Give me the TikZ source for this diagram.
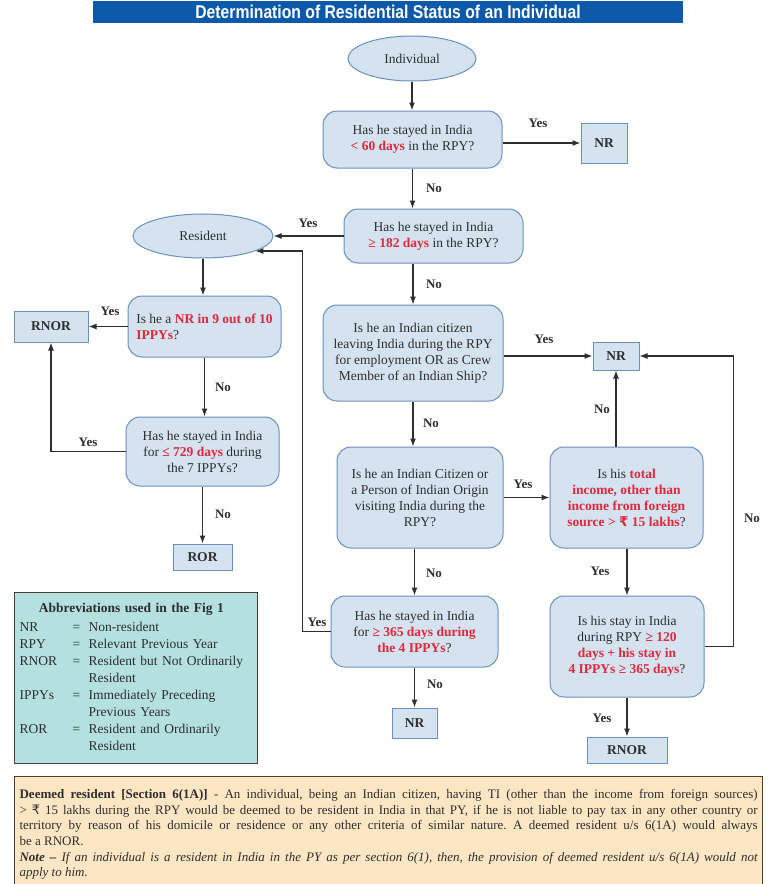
\documentclass[tikz,border=0pt]{standalone}
\usepackage{fontspec}
\setmainfont{Liberation Serif}
\newfontfamily\titlefont[FakeStretch = 0.85]{Liberation Sans}
\newfontfamily\rupeefont{DejaVu Sans}
\usepackage{xcolor}
\usetikzlibrary{calc}
\usetikzlibrary{arrows.meta}
\usetikzlibrary{shapes.geometric}
\definecolor{boxfill}{HTML}{D5E3F1}
\definecolor{boxline}{HTML}{6B8FBE}
\definecolor{hlred}{HTML}{E0293B}
\definecolor{txt}{HTML}{2E2E2E}
\definecolor{titleblue}{HTML}{0B59A8}
\definecolor{abbrfill}{HTML}{B4E0E0}
\definecolor{notefill}{HTML}{FDE6C3}
\definecolor{notebrd}{HTML}{4A3C30}
\tikzset{>=latex}
\tikzstyle{qbox} = [draw = boxline, fill = boxfill, line width = 1, rounded corners = 14pt, align = center, text = txt, font = \fontsize{13.5}{16}\selectfont, inner sep = 1]
\tikzstyle{endbox} = [draw = boxline, fill = boxfill, line width = 1, text = txt, font = \fontsize{13.5}{16}\selectfont\bfseries, inner sep = 1]
\tikzstyle{oval} = [ellipse, draw = boxline, fill = boxfill, line width = 1, text = txt, font = \fontsize{13.5}{16}\selectfont, inner sep = 1]
\tikzstyle{lbl} = [draw = none, inner sep = 1, text = txt, font = \fontsize{13}{15}\selectfont\bfseries]
\tikzstyle{arr} = [-{Latex[length = 8pt, width = 6pt]}, draw = txt, line width = 1.2]
\newcommand{\hl}[1]{\textcolor{hlred}{\bfseries #1}}
\newcommand{\rs}{{\rupeefont ₹}}

\begin{document}
\begin{tikzpicture}[x = 1pt, y = -1pt]
\useasboundingbox (0, 0) rectangle (768, 884);
\node [fill = titleblue, minimum width = 590, minimum height = 22, inner sep = 0, text = white, font = \titlefont\fontsize{18.5}{20}\selectfont\bfseries] (title) at (388, 12) {Determination of Residential Status of an Individual};

% main column
\node [oval, minimum width = 128, minimum height = 45] (ind) at (412, 58.5) {Individual};
\node [qbox, minimum width = 179, minimum height = 57] (q1) at (412.5, 139.5) {Has he stayed in India\\\hl{< 60 days} in the RPY?};
\node [endbox, minimum width = 46, minimum height = 40] (nr1) at (604, 143) {NR};
\node [qbox, minimum width = 179, minimum height = 54] (q2) at (433.5, 236) {Has he stayed in India\\\hl{≥ 182 days} in the RPY?};
\node [qbox, minimum width = 180, minimum height = 96] (q5) at (413, 353) {Is he an Indian citizen\\leaving India during the RPY\\for employment OR as Crew\\Member of an Indian Ship?};
\node [endbox, minimum width = 46, minimum height = 28] (nr2) at (616, 356) {NR};
\node [qbox, minimum width = 166, minimum height = 101] (q6) at (420, 497.5) {Is he an Indian Citizen or\\a Person of Indian Origin\\visiting India during the\\RPY?};
\node [qbox, minimum width = 153, minimum height = 101] (q7) at (626.5, 497.5) {Is his \hl{total}\\\hl{income, other than}\\\hl{income from foreign}\\\hl{source > \rs{} 15 lakhs}?};
\node [qbox, minimum width = 167, minimum height = 71] (q8) at (414.5, 631.5) {Has he stayed in India\\for \hl{≥ 365 days during}\\\hl{the 4 IPPYs}?};
\node [endbox, minimum width = 45, minimum height = 30] (nr3) at (414.5, 723) {NR};
\node [qbox, minimum width = 154, minimum height = 101] (q9) at (627, 646.5) {Is his stay in India\\during RPY \hl{≥ 120}\\\hl{days + his stay in}\\\hl{4 IPPYs ≥ 365 days}?};
\node [endbox, minimum width = 80, minimum height = 26] (rnor2) at (627, 750) {RNOR};

% resident branch
\node [oval, minimum width = 140, minimum height = 44] (res) at (203, 236) {Resident};
\node [qbox, minimum width = 153, minimum height = 61, align = left] (q3) at (204.5, 326.5) {Is he a \hl{NR in 9 out of 10}\\\hl{IPPYs}?};
\node [endbox, minimum width = 74, minimum height = 31] (rnor1) at (51, 326.5) {RNOR};
\node [qbox, minimum width = 153, minimum height = 69] (q4) at (202.5, 451.5) {Has he stayed in India\\for \hl{≤ 729 days} during\\the 7 IPPYs?};
\node [endbox, minimum width = 59, minimum height = 26] (ror) at (202.5, 557) {ROR};

% connectors
\draw [arr] (ind.south) -- (ind.south |- q1.north);
\draw [arr] (q1.east |- nr1) -- (nr1.west);
\draw [arr] (q1.south) -- (q1.south |- q2.north);
\draw [arr] (q2.west) -- (res.east);
\draw [arr] (q5.north |- q2.south) -- (q5.north);
\draw [arr] (res.south) -- (res.south |- q3.north);
\draw [arr] (q3.west |- rnor1) -- (rnor1.east);
\draw [arr] (q3.south) -- (q3.south |- q4.north);
\draw [arr] (q4.west) -| (rnor1.south);
\draw [arr] (q4.south) -- (ror.north);
\draw [arr] (q5.east |- nr2) -- (nr2.west);
\draw [arr] (q5.south) -- (q5.south |- q6.north);
\draw [arr] (q6.east) -- (q7.west);
\draw [arr] (q7.north -| nr2) -- (nr2.south);
\draw [arr] (q7.south -| q9.north) -- (q9.north);
\draw [arr] (q8.north |- q6.south) -- (q8.north);
\draw [arr] (q8.west) -| ($(res.-16) + (47, 0)$) -- (res.-16);
\draw [arr] (q8.south) -- (nr3.north);
\draw [arr] (q9.south) -- (rnor2.north);
\draw [arr] (q9.east) -- ++(29, 0) |- (nr2.east);

% labels
\node [lbl] (y1) at (538, 123) {Yes};
\node [lbl] (n1) at (434, 188) {No};
\node [lbl] (y2) at (308, 223) {Yes};
\node [lbl] (n2) at (434, 284) {No};
\node [lbl] (y3) at (110, 311) {Yes};
\node [lbl] (n3) at (223, 387) {No};
\node [lbl] (y4) at (88, 442) {Yes};
\node [lbl] (n4) at (223, 514) {No};
\node [lbl] (y5) at (544, 339) {Yes};
\node [lbl] (n5) at (431, 423) {No};
\node [lbl] (y6) at (523, 484) {Yes};
\node [lbl] (n6) at (602, 409) {No};
\node [lbl] (y7) at (600, 571) {Yes};
\node [lbl] (n7) at (434, 573) {No};
\node [lbl] (y8) at (317, 622) {Yes};
\node [lbl] (n8) at (435, 684) {No};
\node [lbl] (y9) at (602, 718) {Yes};
\node [lbl] (n9) at (752, 518) {No};

% abbreviations
\node [draw = notebrd, fill = abbrfill, line width = 1.2, anchor = north west, minimum width = 243, minimum height = 171, text width = 233, inner xsep = 5, align = left, text = txt, font = \fontsize{13.5}{17}\selectfont] (abbr) at (14, 592) {%
\begin{tabular}{@{}p{53pt}@{}p{16pt}@{}l@{}}
\multicolumn{3}{c}{\bfseries Abbreviations used in the Fig 1}\\[2pt]
NR & = & Non-resident\\
RPY & = & Relevant Previous Year\\
RNOR & = & Resident but Not Ordinarily\\
 & & Resident\\
IPPYs & = & Immediately Preceding\\
 & & Previous Years\\
ROR & = & Resident and Ordinarily\\
 & & Resident
\end{tabular}};

% deemed resident note
\node [draw = notebrd, fill = notefill, line width = 1.2, anchor = north west, text width = 738, inner xsep = 5, inner ysep = 13, align = justify, text = txt, font = \fontsize{13}{15.6}\selectfont] (note) at (14, 776) {%
\tolerance=9999\relax\hyphenpenalty=10000\relax\frenchspacing
\textbf{Deemed resident [Section 6(1A)]} - An individual, being an Indian citizen, having TI (other than the income from foreign sources)\linebreak
> \rs{} 15 lakhs during the RPY would be deemed to be resident in India in that PY, if he is not liable to pay tax in any other country or\linebreak
territory by reason of his domicile or residence or any other criteria of similar nature. A deemed resident u/s 6(1A) would always\linebreak
be a RNOR.\par
\textbf{\textit{Note –}} \textit{If an individual is a resident in India in the PY as per section 6(1), then, the provision of deemed resident u/s 6(1A) would not\linebreak
apply to him.}};
\end{tikzpicture}
\end{document}
